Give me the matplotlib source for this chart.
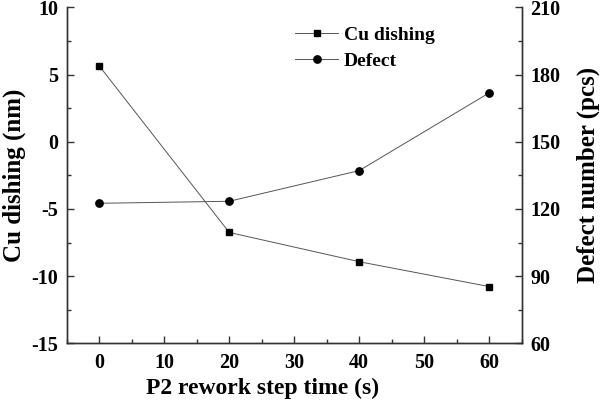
import matplotlib
matplotlib.use("Agg")
import matplotlib.pyplot as plt
from matplotlib.ticker import MultipleLocator

time_s = [0, 20, 40, 60]
cu_dishing = [5.64, -6.75, -8.93, -10.78]
defect = [122.5, 123.4, 137.1, 171.8]

plt.rcParams['font.family'] = ['Liberation Serif', 'DejaVu Serif']
plt.rcParams['font.weight'] = 'bold'
plt.rcParams['axes.unicode_minus'] = False

W, H = 600, 403
fig = plt.figure(figsize=(W/100, H/100), dpi=100)
L, R, T, B = 66.7, 521.7, 7.3, 343.3
ax = fig.add_axes([L/W, 1-B/H, (R-L)/W, (B-T)/H])
ax2 = ax.twinx()

line_col = '#555555'
l1, = ax.plot(time_s, cu_dishing, color=line_col, lw=0.7, marker='s', ms=4.3,
              mfc='black', mec='black', label='Cu dishing', zorder=3)
l2, = ax2.plot(time_s, defect, color=line_col, lw=0.7, marker='o', ms=5.3,
               mfc='black', mec='black', label='Defect', zorder=3)

ax.set_xlim(-5, 65)
ax.set_ylim(-15, 10)
ax2.set_ylim(60, 210)
ax.xaxis.set_major_locator(MultipleLocator(10))
ax.xaxis.set_minor_locator(MultipleLocator(5))
ax.yaxis.set_major_locator(MultipleLocator(5))
ax.yaxis.set_minor_locator(MultipleLocator(2.5))
ax2.yaxis.set_major_locator(MultipleLocator(30))
ax2.yaxis.set_minor_locator(MultipleLocator(15))

for a in (ax, ax2):
    a.spines['top'].set_visible(False)
    for s in a.spines.values():
        s.set_linewidth(1.0)
        s.set_color('#333333')
    a.tick_params(which='major', direction='in', length=5, width=1, labelsize=14.5,
                  color='#333333')
    a.tick_params(which='minor', direction='in', length=3, width=1, color='#333333')
ax.tick_params(axis='x', pad=7)
ax.tick_params(axis='y', pad=6)
ax2.tick_params(axis='y', pad=6)

ax.set_xlabel('P2 rework step time (s)', fontsize=17, fontweight='bold')
ax.xaxis.set_label_coords(0.43, -0.103, transform=ax.transAxes)
ax.xaxis.label.set_va('top')
ax.set_ylabel('Cu dishing (nm)', fontsize=18, fontweight='bold', labelpad=4)
ax2.set_ylabel('Defect number (pcs)', fontsize=18, fontweight='bold', labelpad=12)

leg = ax.legend(handles=[l1, l2], loc='upper left', bbox_to_anchor=(0.464, 0.995),
                frameon=False, prop={'size': 14, 'weight': 'bold'},
                handlelength=2.2, handletextpad=0.3, labelspacing=0.42)

fig.savefig('out.png', dpi=100)
